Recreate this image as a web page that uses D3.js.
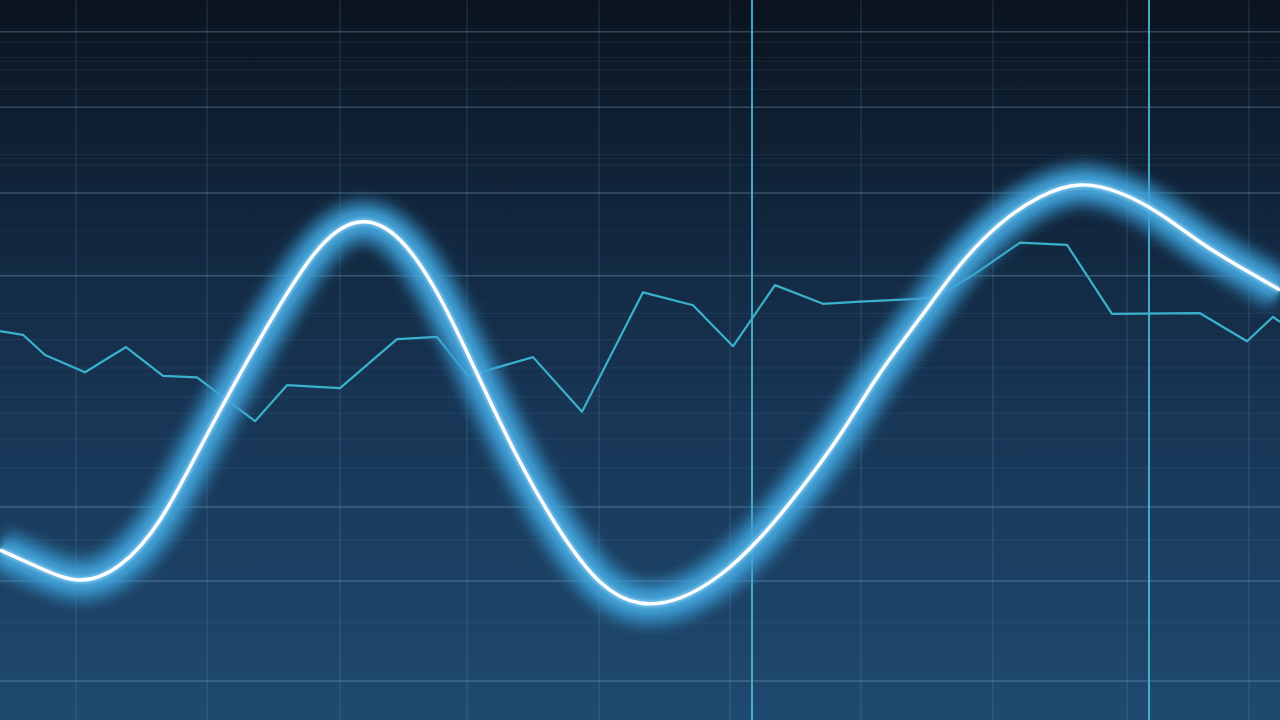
<!DOCTYPE html>
<html>
<head>
<meta charset="utf-8">
<script src="https://cdn.jsdelivr.net/npm/d3@7"></script>
<style>
html,body{margin:0;padding:0;background:#0b1624;overflow:hidden;}
svg{display:block;}
</style>
</head>
<body>
<svg id="chart" width="1280" height="720"></svg>
<script>
// ---- data (t = time units, v = value units 0..100) ----
const waveT = [0,1,2,3,4,5,6,7,8,9,10,11,12,13,14,15,16,17,18,19,20,21,22,23,24,25,26,27,28,29,30,31,32];
const waveV = [23.61,21.11,19.44,21.53,27.78,37.78,48.06,57.64,65.69,69.17,66.67,58.61,47.22,35.83,26.25,19.17,16.25,16.94,20.14,25.28,31.94,39.58,48.19,55.83,63.19,68.89,72.64,74.31,73.19,70.28,66.39,62.92,59.72];

const noiseT = [0,0.575,1.125,2.125,3.15,4.075,4.925,6.375,7.175,8.5,9.925,10.925,11.7,13.325,14.55,16.075,17.325,18.325,19.375,20.575,21.5,22.925,23.425,24.325,25.5,26.675,27.8,30.0,31.175,31.825,32];
const noiseV = [54.0,53.5,50.7,48.3,51.8,47.8,47.6,41.5,46.5,46.1,52.9,53.2,47.8,50.4,42.8,59.4,57.6,51.9,60.4,57.8,58.1,58.5,58.8,61.8,66.3,66.0,56.4,56.5,52.6,56.0,55.3];

const gridXMajor = [1.9,5.175,8.5,11.675,14.975,18.25,21.525,24.825,28.175,31.225];
const highlightX = [18.8,28.725];
const gridYMajor = [95.6,85.1,73.2,61.7,29.6,19.3,5.4];
const gridYMid = [94.2,91.5,90.3,87.6,78.5,77.1,56.5,52.8,48.9,44.9,42.6,39.0,35.0,25.0,13.5];

// ---- setup ----
const W = 1280, H = 720;
const svg = d3.select("#chart");
const x = d3.scaleLinear().domain([0, 32]).range([0, W]);
const y = d3.scaleLinear().domain([0, 100]).range([H, 0]);

const defs = svg.append("defs");
const bg = defs.append("linearGradient").attr("id","bg").attr("x1",0).attr("y1",0).attr("x2",0).attr("y2",1);
bg.append("stop").attr("offset","0%").attr("stop-color","#0a131e");
bg.append("stop").attr("offset","20%").attr("stop-color","#0f2033");
bg.append("stop").attr("offset","55%").attr("stop-color","#173453");
bg.append("stop").attr("offset","100%").attr("stop-color","#1f4a70");

function blur(id, sd){
  defs.append("filter").attr("id",id).attr("x","-20%").attr("y","-50%").attr("width","140%").attr("height","200%")
    .append("feGaussianBlur").attr("stdDeviation",sd);
}
blur("glowA",7); blur("glowB",3); blur("glowC",1.4); blur("soft",0.5);

svg.append("rect").attr("width",W).attr("height",H).attr("fill","url(#bg)");

// minor horizontal lines
const minorY = y.ticks(70);
svg.append("g").selectAll("line").data(minorY).join("line")
  .attr("x1",0).attr("x2",W).attr("y1",d=>y(d)).attr("y2",d=>y(d))
  .attr("stroke","#6f9cc4").attr("stroke-opacity",0.06).attr("stroke-width",1);

svg.append("g").selectAll("line").data(gridYMid).join("line")
  .attr("x1",0).attr("x2",W).attr("y1",d=>y(d)).attr("y2",d=>y(d))
  .attr("stroke","#7fa9cf").attr("stroke-opacity",0.12).attr("stroke-width",1);

svg.append("g").selectAll("line").data(gridYMajor).join("line")
  .attr("x1",0).attr("x2",W).attr("y1",d=>y(d)).attr("y2",d=>y(d))
  .attr("stroke","#8fb8dc").attr("stroke-opacity",0.3).attr("stroke-width",1.5);

svg.append("g").selectAll("line").data(gridXMajor).join("line")
  .attr("y1",0).attr("y2",H).attr("x1",d=>x(d)).attr("x2",d=>x(d))
  .attr("stroke","#8fb8dc").attr("stroke-opacity",0.15).attr("stroke-width",1.5);

svg.append("g").selectAll("line").data(highlightX).join("line")
  .attr("y1",0).attr("y2",H).attr("x1",d=>x(d)).attr("x2",d=>x(d))
  .attr("stroke","#46b8d6").attr("stroke-opacity",0.9).attr("stroke-width",2);

// noise line
const noise = noiseT.map((t,i)=>[t,noiseV[i]]);
const lineN = d3.line().x(d=>x(d[0])).y(d=>y(d[1]));
svg.append("path").datum(noise).attr("d",lineN)
  .attr("fill","none").attr("stroke","#3bb2cc").attr("stroke-width",2.2)
  .attr("stroke-linejoin","round");

// glowing wave
const wave = waveT.map((t,i)=>[t,waveV[i]]);
const lineW = d3.line().x(d=>x(d[0])).y(d=>y(d[1])).curve(d3.curveNatural);
const wd = lineW(wave);
svg.append("path").attr("d",wd).attr("fill","none").attr("stroke","#3a98d2")
  .attr("stroke-width",42).attr("stroke-opacity",0.8).attr("filter","url(#glowA)");
svg.append("path").attr("d",wd).attr("fill","none").attr("stroke","#4aa9de")
  .attr("stroke-width",22).attr("stroke-opacity",0.65).attr("filter","url(#glowB)");
svg.append("path").attr("d",wd).attr("fill","none").attr("stroke","#a8e2ff")
  .attr("stroke-width",7).attr("stroke-opacity",0.55).attr("filter","url(#glowC)");
svg.append("path").attr("d",wd).attr("fill","none").attr("stroke","#ffffff")
  .attr("stroke-width",3.4).attr("filter","url(#soft)");
</script>
</body>
</html>
